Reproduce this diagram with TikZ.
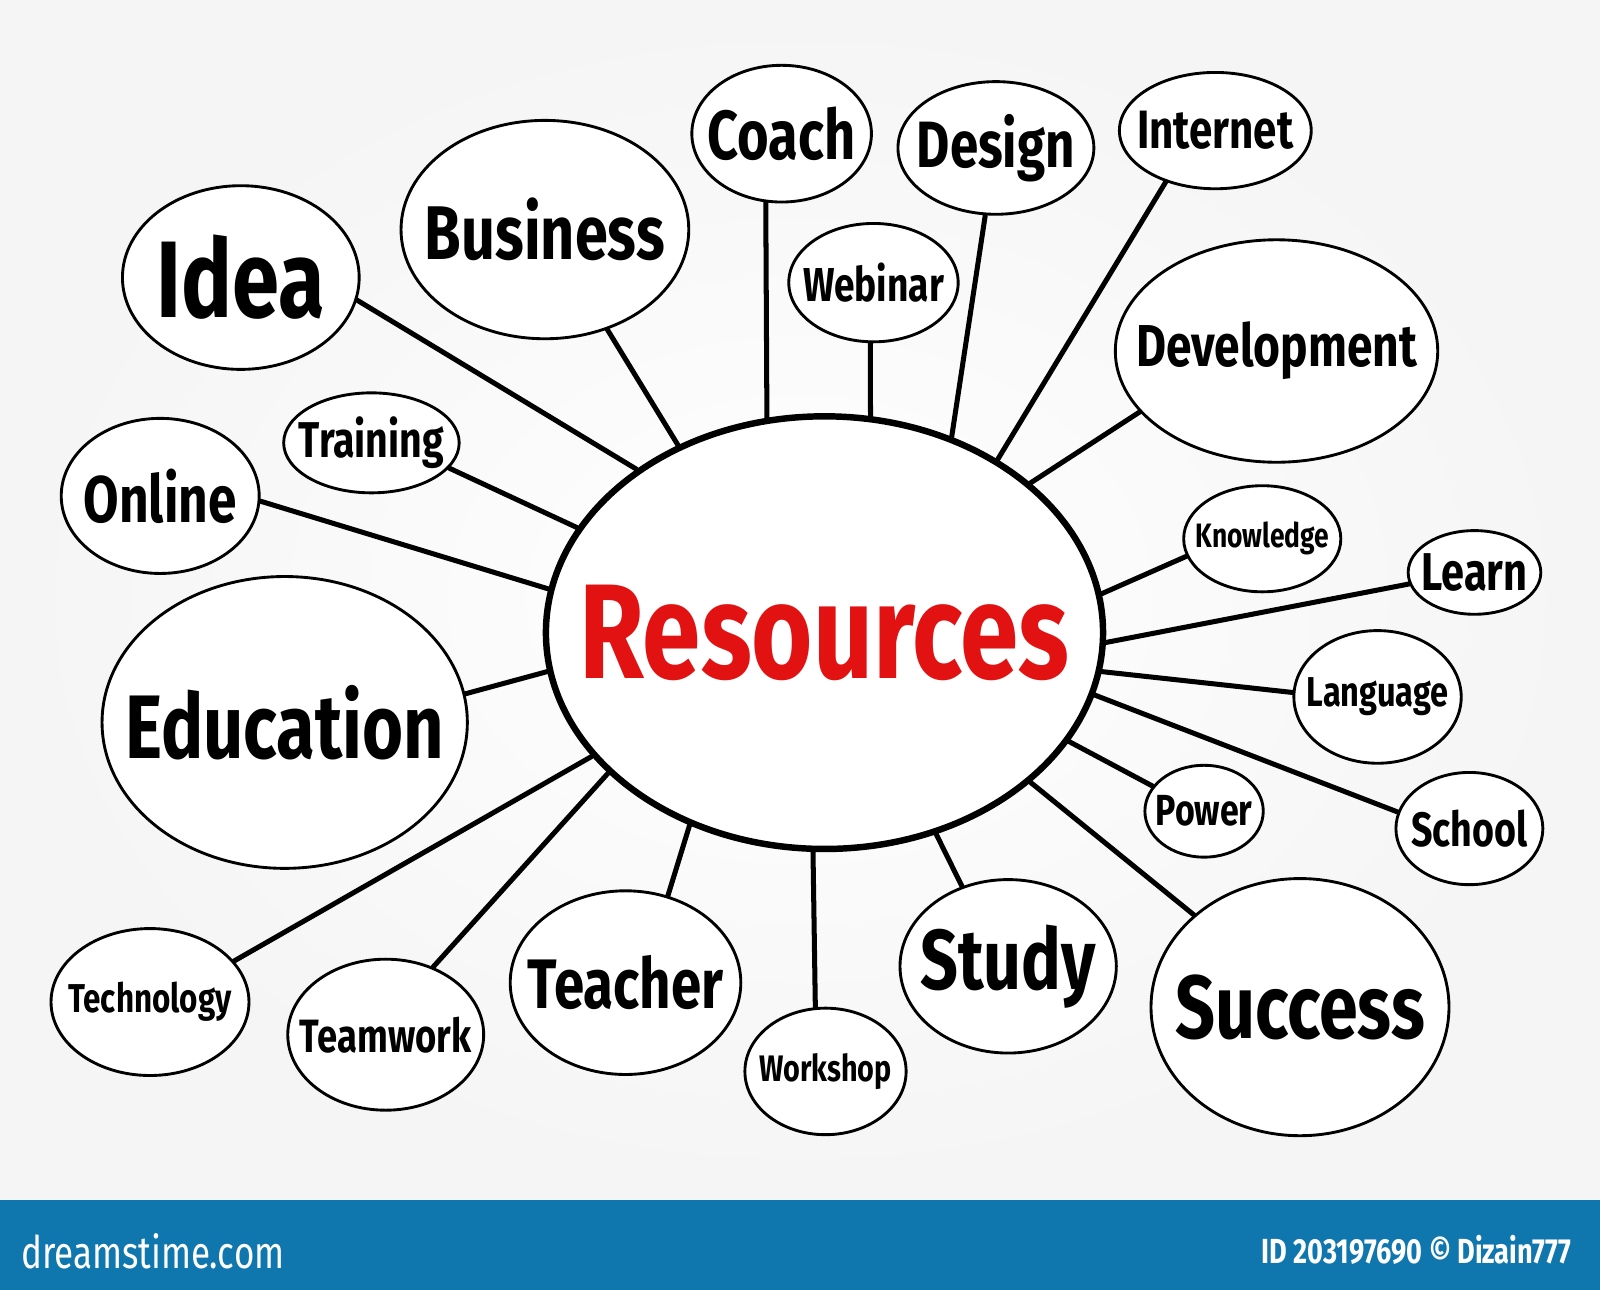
\documentclass[tikz,border=0pt]{standalone}
\usepackage{fontspec}
\setmainfont{Fira Sans}
\newfontfamily\hand{Fira Sans}[FakeStretch=0.78]
\usetikzlibrary{shapes.geometric}
\definecolor{barblue}{RGB}{16,118,174}
\definecolor{resred}{RGB}{226,18,18}
\newcommand{\wrd}[2]{\resizebox{#1mm}{!}{\hand\bfseries #2}}
\begin{document}
\begin{tikzpicture}[x=0.1mm,y=-0.1mm,line cap=round,line join=round,
  bub/.style={draw,ellipse,inner sep=0pt,line width=0.8pt,fill=white},
  hub/.style={draw,ellipse,inner sep=0pt,line width=1.8pt,fill=white},
  link/.style={line width=1.4pt}]
\useasboundingbox (0,0) rectangle (1568,1264);
\shade[inner color=white,outer color=black!4] (0,0) rectangle (1568,1176);
% centre
\node[hub,minimum width=54.6mm,minimum height=42.4mm,label={[text=resred]center:\wrd{48}{Resources}}] (resources) at (808,620) {};
% upper ring
\node[bub,minimum width=23.2mm,minimum height=18mm,label={center:\wrd{16.5}{Idea}}] (idea) at (236,272) {};
\node[bub,minimum width=28.2mm,minimum height=21.4mm,label={center:\wrd{23.5}{Business}}] (business) at (534,225) {};
\node[bub,minimum width=17.6mm,minimum height=13.4mm,label={center:\wrd{14.5}{Coach}}] (coach) at (766,131) {};
\node[bub,minimum width=19.2mm,minimum height=13mm,label={center:\wrd{15.5}{Design}}] (design) at (976,145) {};
\node[bub,minimum width=18.8mm,minimum height=11.4mm,label={center:\wrd{15.3}{Internet}}] (internet) at (1191,128) {};
\node[bub,minimum width=16.6mm,minimum height=11.6mm,label={center:\wrd{13.8}{Webinar}}] (webinar) at (856,277) {};
\node[bub,minimum width=31.6mm,minimum height=21.8mm,label={center:\wrd{27.5}{Development}}] (development) at (1251,344) {};
% left side
\node[bub,minimum width=17.2mm,minimum height=9.8mm,label={center:\wrd{14.2}{Training}}] (training) at (364,434) {};
\node[bub,minimum width=19.4mm,minimum height=15.2mm,label={center:\wrd{15}{Online}}] (online) at (157,486) {};
\node[bub,minimum width=35.8mm,minimum height=28.6mm,label={center:\wrd{31.2}{Education}}] (education) at (279,708) {};
% right side
\node[bub,minimum width=15.4mm,minimum height=10.4mm,label={center:\wrd{13.1}{Knowledge}}] (knowledge) at (1237,528) {};
\node[bub,minimum width=13mm,minimum height=8.2mm,label={center:\wrd{10.4}{Learn}}] (learn) at (1445,561) {};
\node[bub,minimum width=16.4mm,minimum height=13mm,label={center:\wrd{13.9}{Language}}] (language) at (1350,683) {};
\node[bub,minimum width=11.6mm,minimum height=9mm,label={center:\wrd{9.5}{Power}}] (power) at (1180,795) {};
\node[bub,minimum width=14.4mm,minimum height=11mm,label={center:\wrd{11.4}{School}}] (school) at (1440,812) {};
% lower ring
\node[bub,minimum width=29.2mm,minimum height=25.2mm,label={center:\wrd{24.5}{Success}}] (success) at (1274,987) {};
\node[bub,minimum width=21.2mm,minimum height=17mm,label={center:\wrd{17.2}{Study}}] (study) at (988,947) {};
\node[bub,minimum width=15.8mm,minimum height=12.4mm,label={center:\wrd{13}{Workshop}}] (workshop) at (809,1050) {};
\node[bub,minimum width=22.6mm,minimum height=18mm,label={center:\wrd{19.2}{Teacher}}] (teacher) at (613,963) {};
\node[bub,minimum width=19.2mm,minimum height=14.8mm,label={center:\wrd{16.8}{Teamwork}}] (teamwork) at (378,1014) {};
\node[bub,minimum width=19.4mm,minimum height=14.4mm,label={center:\wrd{16}{Technology}}] (technology) at (147,982) {};
% spokes
\draw[link] (resources.139.2) -- (idea.-11.9);
\draw[link] (resources.128.5) -- (business.-58.6);
\draw[link] (resources.105.8) -- (coach.-103.4);
\draw[link] (resources.78.4) -- (webinar.-93.8);
\draw[link] (resources.57.2) -- (design.-99.6);
\draw[link] (resources.45.5) -- (internet.-134.5);
\draw[link] (resources.36.2) -- (development.-156.2);
\draw[link] (resources.157.8) -- (training.-18);
\draw[link] (resources.171.5) -- (online.-3.5);
\draw[link] (resources.-172.1) -- (education.9);
\draw[link] (resources.8.7) -- (knowledge.-167.1);
\draw[link] (resources.-2.1) -- (learn.-170.1);
\draw[link] (resources.-8) -- (language.177.9);
\draw[link] (resources.-13.9) -- (school.167.6);
\draw[link] (resources.-24) -- (power.154.7);
\draw[link] (resources.-36.9) -- (success.139.2);
\draw[link] (resources.-61.9) -- (study.120.7);
\draw[link] (resources.-93.4) -- (workshop.99.5);
\draw[link] (resources.-125.2) -- (teacher.64);
\draw[link] (resources.-147.6) -- (teamwork.55.2);
\draw[link] (resources.-152.3) -- (technology.26.6);
% footer bar
\fill[barblue] (0,1176) rectangle (1568,1264);
\node[text=white,anchor=west,inner sep=0pt] (site) at (20,1226) {\resizebox{25.8mm}{!}{\hand dreamstime.com}};
\node[text=white,anchor=east,inner sep=0pt] (credit) at (1540,1225) {\resizebox{30.3mm}{!}{\hand\bfseries ID 203197690 © Dizain777}};
\end{tikzpicture}
\end{document}
